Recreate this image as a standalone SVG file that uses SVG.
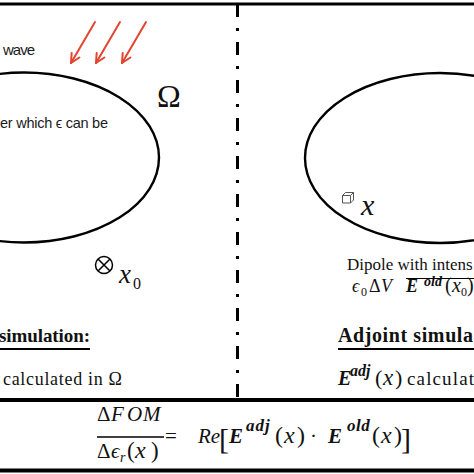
<svg xmlns="http://www.w3.org/2000/svg" width="474" height="474" viewBox="0 0 474 474">
<style>
.line{stroke:#000;fill:none}
.ell{fill:none;stroke:#000;stroke-width:2.4}
.serif{font-family:"Liberation Serif","DejaVu Serif",serif;fill:#111}
.sans{font-family:"Liberation Sans","DejaVu Sans",sans-serif;fill:#1a1a1a}
.it{font-style:italic}
.b{font-weight:bold}
.arrow{stroke:#e2452f;stroke-width:2;fill:none;stroke-linecap:round}
</style>
<defs>
<marker id="ah" viewBox="-11 -6 13 12" refX="0" refY="0" markerWidth="13" markerHeight="12" markerUnits="userSpaceOnUse" orient="auto">
<path d="M-9,-4.5 L0,0 L-9,4.5" fill="none" stroke="#e2452f" stroke-width="2" stroke-linecap="round" stroke-linejoin="round"/>
</marker>
</defs>
<rect width="474" height="474" fill="#fff"/>

<g id="frame">
<line class="line" x1="0" y1="4" x2="474" y2="4" stroke-width="3"/>
<line class="line" x1="237.5" y1="4" x2="237.5" y2="398" stroke-width="3" stroke-dasharray="13 11 3 11"/>
<line class="line" x1="0" y1="400" x2="474" y2="400" stroke-width="4"/>
<line class="line" x1="0" y1="470.5" x2="474" y2="470.5" stroke-width="4"/>
</g>

<g id="left-panel">
<ellipse class="ell" cx="24" cy="157.5" rx="135" ry="85"/>
<text class="sans" x="3" y="55" font-size="15" textLength="32">wave</text>
<text class="sans" x="0" y="128" font-size="14.5" textLength="108">er which ϵ can be</text>
<text class="serif" x="157" y="107" font-size="32">Ω</text>
<g id="x0-mark">
<circle cx="104" cy="265" r="8.5" fill="none" stroke="#000" stroke-width="1.5"/>
<path d="M98,259 L110,271 M110,259 L98,271" stroke="#000" stroke-width="1.5"/>
</g>
<text class="serif it" x="119" y="283" font-size="27">x</text>
<text class="serif" x="133" y="289" font-size="16">0</text>
<text class="serif b" x="-1" y="342" font-size="19" textLength="91">simulation:</text>
<line class="line" x1="0" y1="349" x2="90" y2="349" stroke-width="1.8"/>
<text class="serif" x="3" y="385" font-size="18" textLength="119">calculated in Ω</text>
</g>

<g id="arrows">
<line class="arrow" x1="95" y1="22" x2="71" y2="63" marker-end="url(#ah)"/>
<line class="arrow" x1="120" y1="22" x2="96" y2="63" marker-end="url(#ah)"/>
<line class="arrow" x1="146" y1="22" x2="122" y2="63" marker-end="url(#ah)"/>
</g>

<g id="right-panel">
<ellipse class="ell" cx="440" cy="158" rx="135" ry="85"/>
<g id="cube" fill="#fff" stroke="#555" stroke-width="1">
<path d="M342.5,195.5 h8 v7.5 h-8 z"/>
<path d="M342.5,195.5 l3,-3 h8 l-3,3 z"/>
<path d="M350.5,195.5 l3,-3 v7.5 l-3,3 z"/>
</g>
<text class="serif it" x="361" y="215" font-size="30">x</text>
<text class="serif" x="347" y="270" font-size="17">Dipole with intens</text>
<g class="serif" font-size="18">
<text class="it" x="352" y="292">ϵ</text>
<text x="361" y="296" font-size="12">0</text>
<text x="369" y="292">Δ</text>
<text class="it" x="381" y="292">V</text>
<text class="it b" x="406" y="292">E</text>
<text class="it b" x="424" y="286" font-size="14">old</text>
<text x="445" y="292" font-size="20">(</text>
<text class="it" x="452" y="292" font-size="20">x</text>
<text x="461" y="296" font-size="12">0</text>
<text x="467" y="292" font-size="20">)</text>
</g>
<line class="line" x1="406" y1="278.5" x2="474" y2="278.5" stroke-width="1"/>
<text class="serif b" x="338" y="342" font-size="20" textLength="135">Adjoint simula</text>
<line class="line" x1="338" y1="349" x2="474" y2="349" stroke-width="1.8"/>
<g class="serif" font-size="20">
<text class="it b" x="338" y="385">E</text>
<text class="it b" x="350" y="376" font-size="16">adj</text>
<text x="375" y="385" font-size="22">(</text>
<text class="it" x="383" y="385" font-size="23">x</text>
<text x="395" y="385" font-size="22">)</text>
<text x="407" y="385" font-size="19" textLength="67">calculat</text>
</g>
</g>

<g id="formula" class="serif" font-size="21">
<text x="97" y="421">Δ</text>
<text class="it" x="111" y="421">F</text>
<text class="it" x="127" y="421">O</text>
<text class="it" x="143" y="421">M</text>
<line class="line" x1="97" y1="437" x2="164" y2="437" stroke-width="1.6"/>
<text x="97" y="458">Δ</text>
<text class="it" x="111" y="458">ϵ</text>
<text class="it" x="120" y="462" font-size="14">r</text>
<text x="127" y="458" font-size="23">(</text>
<text class="it" x="135" y="458" font-size="24">x</text>
<text x="151" y="458" font-size="23">)</text>
<text x="165" y="443">=</text>
<text class="it" x="198" y="443">Re</text>
<text x="219" y="449" font-size="30">[</text>
<text class="it b" x="229" y="443">E</text>
<text class="it b" x="246" y="431" font-size="17" letter-spacing="1">adj</text>
<text x="275" y="443" font-size="24">(</text>
<text class="it" x="284" y="443" font-size="24">x</text>
<text x="297" y="443" font-size="24">)</text>
<text x="310" y="443">·</text>
<text class="it b" x="328" y="443">E</text>
<text class="it b" x="347" y="431" font-size="17" letter-spacing="0.5">old</text>
<text x="372" y="443" font-size="24">(</text>
<text class="it" x="381" y="443" font-size="24">x</text>
<text x="394" y="443" font-size="24">)</text>
<text x="401" y="449" font-size="30">]</text>
</g>
</svg>
